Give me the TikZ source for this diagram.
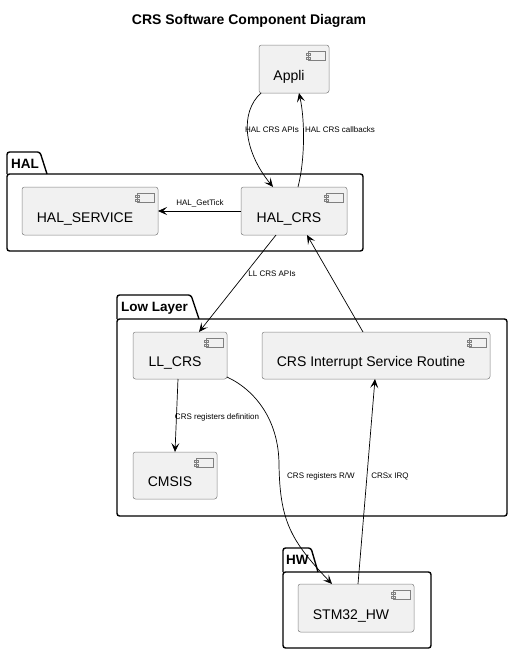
\documentclass[tikz,border=0pt]{standalone}
\usepackage{fontspec}
\setmainfont{Liberation Sans}
\usepackage{tikz}
\usetikzlibrary{arrows.meta,positioning}
\definecolor{compfill}{HTML}{F1F1F1}
\definecolor{compline}{HTML}{808080}

\begin{document}
\begin{tikzpicture}[x=1pt, y=-1pt,
    comp/.style={draw=compline, fill=compfill, line width=0.5pt, rounded corners=2.5pt,
      inner sep=0pt, outer sep=0pt, minimum height=48pt,
      font=\fontsize{14}{16}\selectfont, text height=22pt, text depth=0pt,
      execute at begin node=\hspace*{-10pt},
      path picture={
        \draw[sharp corners, draw=compline, line width=0.5pt, fill=compfill]
          ([xshift=-21pt,yshift=-6.5pt]path picture bounding box.north east) rectangle ++(17pt,-9pt)
          ([xshift=-23pt,yshift=-8.5pt]path picture bounding box.north east) rectangle ++(4pt,-2pt)
          ([xshift=-23pt,yshift=-12pt]path picture bounding box.north east) rectangle ++(4pt,-2pt);
      }},
    pkg/.style={draw=black, line width=1.4pt, rounded corners=2.5pt},
    pkgname/.style={anchor=base west, inner sep=0pt, font=\fontsize{13.5}{16}\selectfont\bfseries},
    link/.style={-{Stealth[length=9pt,width=8pt,inset=4pt]}, line width=0.7pt},
    lbl/.style={font=\fontsize{8}{9}\selectfont, inner sep=1pt}]
    \useasboundingbox (0,0) rectangle (512,654);

    \node[anchor=base, font=\fontsize{14}{16}\selectfont\bfseries] (title) at (249,24.5) {CRS Software Component Diagram};

    % HAL package
    \draw[pkg] (7,174) -- (7,152) -- (40,152) -- (47,174);
    \draw[pkg] (7,174) rectangle (363,251);
    \node[pkgname] (halpkg) at (11,168) {HAL};

    % Low Layer package
    \draw[pkg] (117,319) -- (117,295) -- (191,295) -- (199,319);
    \draw[pkg] (117,319) rectangle (507,516);
    \node[pkgname] (llpkg) at (121,311) {Low Layer};

    % HW package
    \draw[pkg] (283,572) -- (283,548) -- (311,548) -- (318,572);
    \draw[pkg] (283,572) rectangle (431,648);
    \node[pkgname] (hwpkg) at (286,564) {HW};

    % components
    \node[comp, minimum width=70pt] (appli) at (294,69) {Appli};
    \node[comp, minimum width=136pt] (halsvc) at (90,211) {HAL\_SERVICE};
    \node[comp, minimum width=106pt] (halcrs) at (294,211) {HAL\_CRS};
    \node[comp, minimum width=94pt, minimum height=47pt] (llcrs) at (180,355.5) {LL\_CRS};
    \node[comp, minimum width=228pt, minimum height=47pt] (isr) at (376,355.5) {CRS Interrupt Service Routine};
    \node[comp, minimum width=84pt, minimum height=47pt] (cmsis) at (175,475.5) {CMSIS};
    \node[comp, minimum width=116pt] (stm) at (356,608) {STM32\_HW};

    % links
    \draw[link] ([xshift=2pt]appli.south west) .. controls +(-21,19) and +(-30,-37) .. ([xshift=32pt]halcrs.north west);
    \node[lbl] (apis) at (272,130) {HAL CRS APIs};
    \draw[link] ([xshift=57pt]halcrs.north west) .. controls +(7,-27) and +(6,27) .. ([xshift=40pt]appli.south west);
    \node[lbl] (cbs) at (340,130) {HAL CRS callbacks};

    \draw[link] (halcrs.west) -- (halsvc.east);
    \node[lbl] (tick) at (200,203) {HAL\_GetTick};

    \draw[link] ([xshift=35pt]halcrs.south west) -- ([xshift=66pt]llcrs.north west);
    \node[lbl] (llapis) at (272,274) {LL CRS APIs};
    \draw[link] ([xshift=101pt]isr.north west) -- ([xshift=66pt]halcrs.south west);

    \draw[link] ([xshift=45pt]llcrs.south west) -- ([xshift=42pt]cmsis.north west);
    \node[lbl] (regdef) at (217,417) {CRS registers definition};

    \coordinate (rwbend) at (279,465);
    \draw[link] ([yshift=2pt]llcrs.south east) .. controls +(28,13) and +(0,-45) .. (rwbend)
      .. controls +(1,55) and +(-42,-44) .. ([xshift=34pt]stm.north west);
    \node[lbl] (regrw) at (321,476) {CRS registers R/W};
    \draw[link] ([xshift=60pt]stm.north west) -- ([xshift=113pt]isr.south west);
    \node[lbl] (irq) at (390,476) {CRSx IRQ};
\end{tikzpicture}
\end{document}
